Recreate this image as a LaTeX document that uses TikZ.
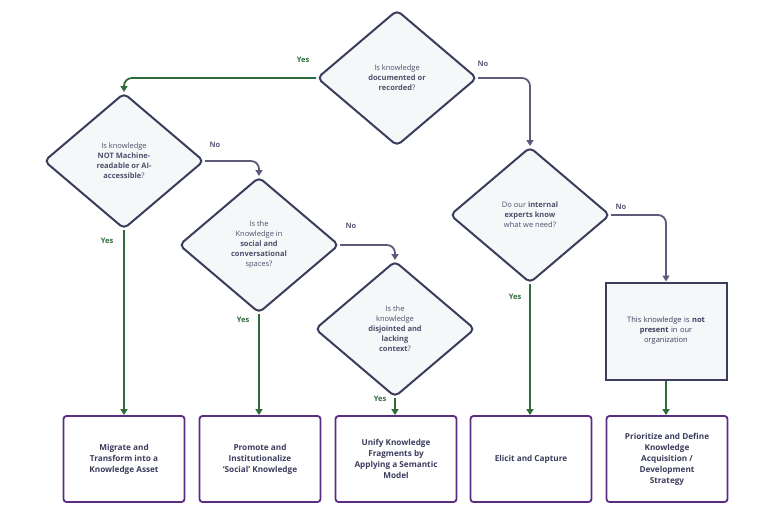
\documentclass[tikz,border=0pt]{standalone}
\usepackage{fontspec}
\setmainfont{Open Sans}
\usetikzlibrary{shapes.geometric,arrows.meta}
\definecolor{dnavy}{HTML}{3B3D5C}
\definecolor{dfill}{HTML}{F6F7F9}
\definecolor{nogray}{HTML}{5E5A7A}
\definecolor{yesgreen}{HTML}{2F6B3B}
\definecolor{purp}{HTML}{5B2D82}
\begin{document}
\begin{tikzpicture}[x=1pt,y=-1pt,
  dia/.style={draw=dnavy,line width=2pt,fill=dfill,shape=diamond,inner sep=0pt,minimum width=160pt,minimum height=136pt,rounded corners=5pt,align=center,font=\fontsize{7.5}{10}\selectfont,text=dnavy!90},
  box/.style={draw=purp,line width=1.8pt,fill=white,rounded corners=3pt,minimum width=121pt,minimum height=86pt,inner sep=0pt,align=center,font=\bfseries\fontsize{8.2}{11}\selectfont,text=dnavy},
  no/.style={draw=nogray,line width=1.8pt,rounded corners=8pt,-{Triangle[length=6pt,width=7pt]}},
  yes/.style={draw=yesgreen,line width=1.8pt,rounded corners=8pt,-{Triangle[length=6pt,width=7pt]}},
  nol/.style={text=nogray,font=\bfseries\fontsize{7.5}{9}\selectfont},
  yesl/.style={text=yesgreen,font=\bfseries\fontsize{7.5}{9}\selectfont}]
\useasboundingbox (0,0) rectangle (768,512);
\node[dia] (d0) at (397,78) {Is knowledge\\\textbf{documented or}\\\textbf{recorded}?};
\node[dia] (d1) at (124,161) {Is knowledge\\\textbf{NOT Machine-}\\\textbf{readable or AI-}\\\textbf{accessible}?};
\node[dia] (d2) at (259,245) {Is the\\Knowledge in\\\textbf{social and}\\\textbf{conversational}\\spaces?};
\node[dia] (d3) at (395,329) {Is the\\knowledge\\\textbf{disjointed and}\\\textbf{lacking}\\\textbf{context}?};
\node[dia] (d4) at (530,215) {Do our \textbf{internal}\\\textbf{experts know}\\what we need?};
\node[draw=dnavy,line width=2pt,fill=dfill,minimum width=121pt,minimum height=97pt,align=center,text width=100pt,font=\fontsize{7.5}{10}\selectfont,text=dnavy] (r) at (666,331) {This knowledge is \textbf{not}\\\textbf{present} in our\\organization};
\node[box] (b1) at (124,459) {Migrate and\\Transform into a\\Knowledge Asset};
\node[box] (b2) at (260,459) {Promote and\\Institutionalize\\‘Social’ Knowledge};
\node[box] (b3) at (396,459) {Unify Knowledge\\Fragments by\\Applying a Semantic\\Model};
\node[box] (b4) at (531,459) {Elicit and Capture};
\node[box] (b5) at (667,459) {Prioritize and Define\\Knowledge\\Acquisition /\\Development\\Strategy};
\draw[yes] (d0.west) -| (d1.north);
\draw[no] (d0.east) -| (d4.north);
\draw[no] (d1.east) -| (d2.north);
\draw[no] (d2.east) -| (d3.north);
\draw[no] (d4.east) -| (r.north);
\draw[yes] (d1.south) -- (b1.north);
\draw[yes] (d2.south) -- (b2.north -| d2.south);
\draw[yes] (d3.south) -- (b3.north -| d3.south);
\draw[yes] (d4.south) -- (b4.north -| d4.south);
\draw[yes] (r.south) -- (b5.north -| r.south);
\node[yesl] at (303,60) {Yes};
\node[nol] at (483,64) {No};
\node[nol] at (215,145) {No};
\node[nol] at (351,226) {No};
\node[nol] at (621,207) {No};
\node[yesl] at (107,241) {Yes};
\node[yesl] at (243,320) {Yes};
\node[yesl] at (380,399) {Yes};
\node[yesl] at (515,297) {Yes};
\end{tikzpicture}
\end{document}
